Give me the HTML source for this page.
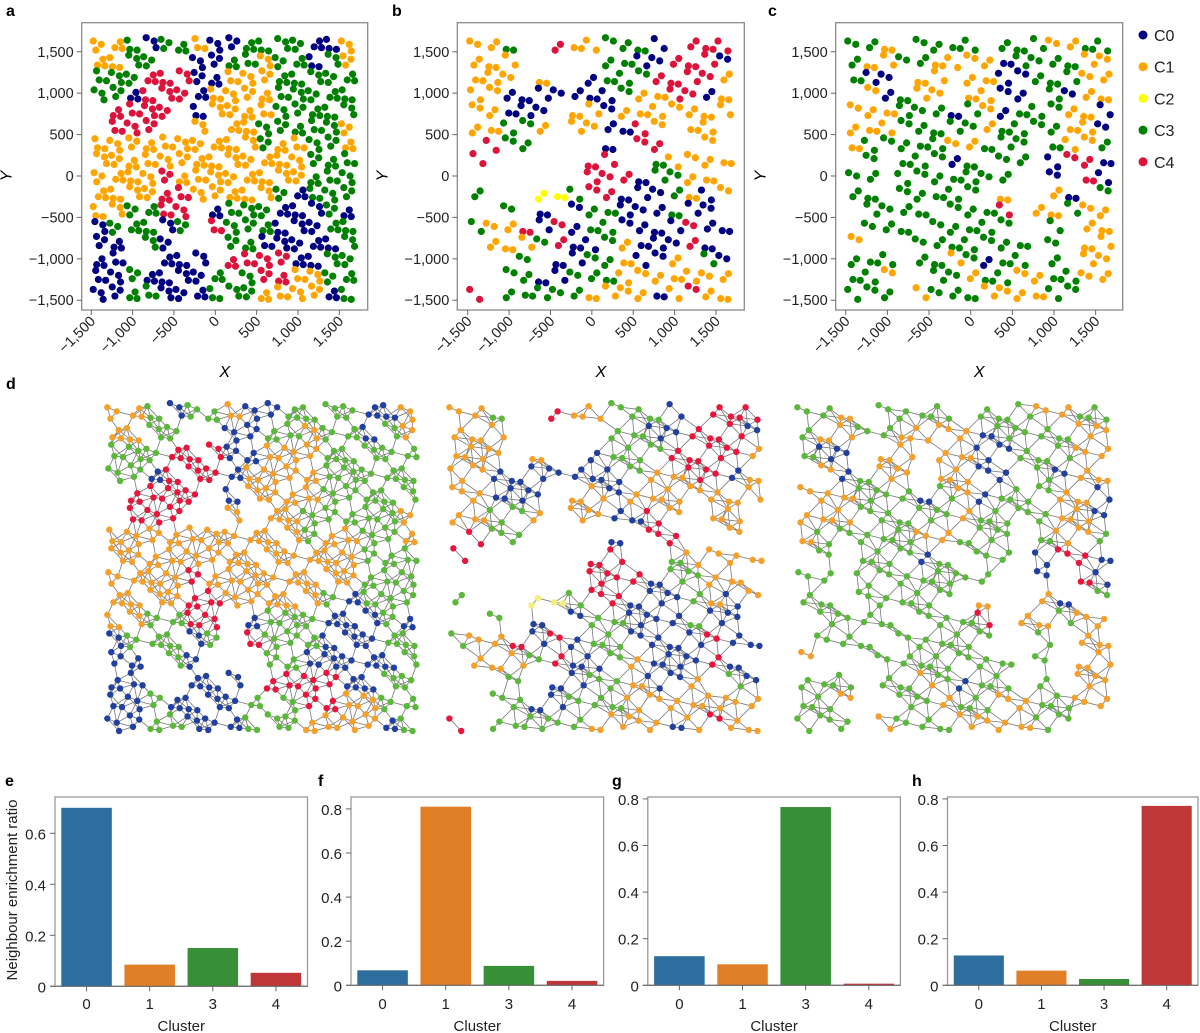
<!DOCTYPE html>
<html><head><meta charset="utf-8"><style>
html,body{margin:0;padding:0;background:#fff}
svg{display:block;font-family:"Liberation Sans",Arial,sans-serif}
</style></head><body>
<svg id="fig" width="1200" height="1033" viewBox="0 0 1200 1033"></svg>
<script>
// ---- scatter data: cluster map per 200-unit cell (X -1500..1700 cols, Y 1700..-1500 rows) ----
const mapA = [
"1130331003333001","1133..0033133031","3334440011133333","3304440111133333",
".4444.0111133333",".444..1.11333331","1111111111311331","1111111111111333",
"1111411111111333","1111441111130333","113344.033300030","033303.433300033",
"00.30...33000003","00..000.44440033","00300003.3441133","0033000333111103"];
const mapB = [
"113..4113330.444","111.....33004440","111.1..033344441","1100000003114401",
"11000.1101111111","11331.110041.11.",".433....0.44..1.","4......44..31111",
".......4440331 1","3...22344000310 1","..3.0.03300030 0","3114040330000400",
".1113400310004 0","...3.0033100 1.30","..33003331111111","4.33333111101411"];
const mapC = [
"331.3333.3331133","3113311110333311","300.11.1100333 11",".103 11.1100.3011",
"1113330310333110","1113333313333110","1333331133 3.3113",".3.33303.33.0440",
"33.333333 3..0.40","33.33333.1..10.3",".3333.3334.1131 1",".333.33333..3.11",
"1...333333 3.3.11","333.331303 3.3.11","331..331331133 11","333.1333111133.."];
const countsPerCell = [3, 2, 2];
// ---- bar data ----
const barCats = ["0","1","3","4"];
const barE = [0.70, 0.085, 0.15, 0.053];
const barF = [0.068, 0.81, 0.088, 0.02];
const barG = [0.125, 0.09, 0.765, 0.007];
const barH = [0.128, 0.063, 0.027, 0.77];
const xTicks = [-1500,-1000,-500,0,500,1000,1500];
const yTicks = [-1500,-1000,-500,0,500,1000,1500];

const NS="http://www.w3.org/2000/svg", svg=document.getElementById('fig');
function el(t,a,p){const e=document.createElementNS(NS,t);for(const k in a)e.setAttribute(k,a[k]);(p||svg).appendChild(e);return e;}
function fmt(v){const s=Math.abs(v).toLocaleString('en-US');return (v<0?'\u2212':'')+s;}
const scCol={"0":"#000080","1":"#ffa500","2":"#ffff00","3":"#008000","4":"#dc143c"};
const nwCol={"0":"#2140a0","1":"#f5a02a","2":"#f4f07a","3":"#5bb83a","4":"#e8163c"};
const offs=[[0.22,0.25],[0.7,0.45],[0.38,0.8],[0.82,0.85]];
function pointsFrom(map,n){
  const pts=[];
  map.forEach((row,r)=>{row.replace(/ /g,'').split('').slice(0,16).forEach((c,ci)=>{
    if(c==='.')return;
    const sh=((r*7+ci*3)%5)*0.05-0.1;
    for(let i=0;i<n;i++){
      const o=offs[(i+r+ci)%4];
      const X=-1500+(ci+Math.min(0.95,Math.max(0.05,o[0]+sh)))*200;
      const Y=1700-(r+Math.min(0.95,Math.max(0.05,o[1]-sh)))*200;
      pts.push({X,Y,c});
    }
  });});
  return pts;
}
const maps=[mapA,mapB,mapC];
const panels=[
 {L:81.7,R:367.7,x0:215.3,k:0.0827,letter:"a",lx:6},
 {L:457.3,R:744.3,x0:591.85,k:0.08277,letter:"b",lx:392},
 {L:835.7,R:1122.7,x0:970.7,k:0.0833,letter:"c",lx:768}];
const T=22.7,B=310,yk=0.0828,y0=176;
panels.forEach((p,pi)=>{
  const g=el('g',{});
  
  
  const lt=el('text',{x:p.lx,y:16,'font-size':16,'font-weight':'bold'},g);lt.textContent=p.letter;
  
  const bx=el('rect',{x:p.L,y:T,width:p.R-p.L,height:B-T,fill:'none',stroke:'#8a8a8a','stroke-width':1.3},g);
  
  yTicks.forEach(v=>{const y=y0-v*yk;el('line',{x1:p.L-5,x2:p.L,y1:y,y2:y,stroke:'#666'},g);
    const t=el('text',{x:p.L-8,y:y+5,'font-size':14.5,'text-anchor':'end',fill:'#222'},g);t.textContent=fmt(v);
    });
  xTicks.forEach(v=>{const x=p.x0+v*p.k;el('line',{x1:x,x2:x,y1:B,y2:B+5,stroke:'#666'},g);
    const t=el('text',{x:x+5,y:B+12,'font-size':14.5,'text-anchor':'end',fill:'#222',transform:`rotate(-45 ${x+5} ${B+12})`},g);t.textContent=fmt(v);
    });
  const xt=el('text',{x:(p.L+p.R)/2,y:377,'font-size':16,'font-style':'italic','text-anchor':'middle'},g);xt.textContent='X';
  
  const ytx=p.L-70, yt=el('text',{x:ytx,y:176,'font-size':16,'font-style':'italic','text-anchor':'middle',transform:`rotate(-90 ${ytx} 176)`},g);yt.textContent='Y';
  
  pointsFrom(maps[pi],countsPerCell[pi]).forEach(q=>{
    const c=el('circle',{cx:p.x0+q.X*p.k,cy:y0-q.Y*yk,r:3.6,fill:scCol[q.c]},g);
    
  });
});
// legend
["C0","C1","C2","C3","C4"].forEach((n,i)=>{
  const y=35+i*31.7;
  const c=el('circle',{cx:1143,cy:y,r:4.5,fill:scCol[String(i)]});
  
  const t=el('text',{x:1154,y:y+6,'font-size':16,fill:'#222'});t.textContent=n;
  
});
// networks
const dl=el('text',{x:6,y:389,'font-size':16,'font-weight':'bold'});dl.textContent='d';

const nets=[[105,418],[447,763],[795,1112]];
const thr=[175,215,215];
nets.forEach((n,ni)=>{
  const g=el('g',{});
  
  const pts=pointsFrom(maps[ni],countsPerCell[ni]);
  const sx=X=>n[0]+(X+1500)/3200*(n[1]-n[0]), sy=Y=>400+(1700-Y)/3200*332;
  const eg=el('g',{stroke:'#777','stroke-width':0.8},g);
  for(let i=0;i<pts.length;i++)for(let j=i+1;j<pts.length;j++){
    const dx=pts[i].X-pts[j].X,dy=pts[i].Y-pts[j].Y;
    if(dx*dx+dy*dy<thr[ni]*thr[ni]){const l=el('line',{x1:sx(pts[i].X),y1:sy(pts[i].Y),x2:sx(pts[j].X),y2:sy(pts[j].Y)},eg);
      }
  }
  pts.forEach(q=>{const c=el('circle',{cx:sx(q.X),cy:sy(q.Y),r:3.2,fill:nwCol[q.c]},g);
    });
});
// bar charts
const barCol=["#2e6e9e","#e07f28","#378f36","#c0373a"];
const bars=[
 {v:barE,L:55,R:307.5,top:797,zero:986.3,per:255,ticks:[0,0.2,0.4,0.6],lab:"e",lx:5,ylabel:true},
 {v:barF,L:351,R:603.6,top:797,zero:985.3,per:220.5,ticks:[0,0.2,0.4,0.6,0.8],lab:"f",lx:318},
 {v:barG,L:647.8,R:900.4,top:797,zero:985.3,per:233,ticks:[0,0.2,0.4,0.6,0.8],lab:"g",lx:612},
 {v:barH,L:947.5,R:1198,top:797,zero:985.3,per:233,ticks:[0,0.2,0.4,0.6,0.8],lab:"h",lx:912}];
bars.forEach(b=>{
  const g=el('g',{});
  
  const t0=el('text',{x:b.lx,y:786,'font-size':16,'font-weight':'bold'},g);t0.textContent=b.lab;
  
  const fr=el('rect',{x:b.L,y:b.top,width:b.R-b.L,height:b.zero-b.top,fill:'none',stroke:'#999','stroke-width':1.3},g);
  
  const step=(b.R-b.L)/4;
  b.v.forEach((v,i)=>{
    const cx=b.L+step*(i+0.5), h=v*b.per;
    const r=el('rect',{x:cx-step*0.4,y:b.zero-h,width:step*0.8,height:h,fill:barCol[i]},g);
    
    el('line',{x1:cx,x2:cx,y1:b.zero,y2:b.zero+5,stroke:'#666'},g);
    const t=el('text',{x:cx,y:1009,'font-size':15,'text-anchor':'middle',fill:'#222'},g);t.textContent=barCats[i];
    
  });
  el('line',{x1:b.L-5,x2:b.R,y1:b.zero,y2:b.zero,stroke:'#666'},g);
  b.ticks.forEach(v=>{const y=b.zero-v*b.per;el('line',{x1:b.L-5,x2:b.L,y1:y,y2:y,stroke:'#666'},g);
    const t=el('text',{x:b.L-9,y:y+6,'font-size':15,'text-anchor':'end',fill:'#222'},g);t.textContent=v===0?'0':v.toFixed(1);
    });
  const ct=el('text',{x:(b.L+b.R)/2,y:1031,'font-size':15,'text-anchor':'middle',fill:'#222'},g);ct.textContent='Cluster';
  
  if(b.ylabel){const yl=el('text',{x:17,y:890,'font-size':15,'text-anchor':'middle',fill:'#222',transform:'rotate(-90 17 890)'},g);
    yl.textContent='Neighbour enrichment ratio';
    }
});
</script>
</body></html>
